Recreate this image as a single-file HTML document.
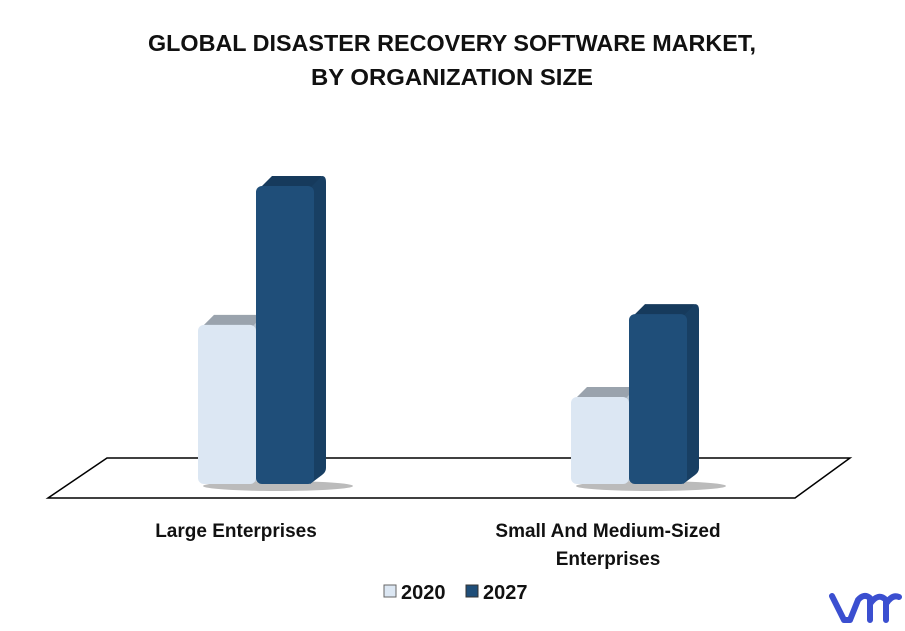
<!DOCTYPE html>
<html><head><meta charset="utf-8"><style>
body{margin:0;background:#fff;font-family:"Liberation Sans",sans-serif}
svg text{font-family:"Liberation Sans",sans-serif;font-weight:bold;fill:#111}
</style></head><body>
<svg id="c" width="905" height="626">
<text x="452" y="51" text-anchor="middle" font-size="23" textLength="608" lengthAdjust="spacingAndGlyphs">GLOBAL DISASTER RECOVERY SOFTWARE MARKET,</text>
<text x="452" y="85" text-anchor="middle" font-size="23" textLength="282" lengthAdjust="spacingAndGlyphs">BY ORGANIZATION SIZE</text>
<polygon points="48,498 107,458 850,458 795,498" fill="#fff" stroke="#000" stroke-width="1.5"/>
<g id="bars"></g>
<text x="236" y="537" text-anchor="middle" font-size="19">Large Enterprises</text>
<text x="608" y="537" text-anchor="middle" font-size="19">Small And Medium-Sized</text>
<text x="608" y="565" text-anchor="middle" font-size="19">Enterprises</text>
<g>
<rect x="384" y="585" width="12" height="12" fill="#dce7f3" stroke="#666"/>
<text x="401" y="599" font-size="20">2020</text>
<rect x="466" y="585" width="12" height="12" fill="#1f4e79" stroke="#333"/>
<text x="483" y="599" font-size="20">2027</text>
</g>
<g>
<path d="M832 596 L844 620 L850 620 L858 600 Q864 593 870 598 L870 620 M870 604 Q878 592 886 600 L886 620 M886 604 Q892 594 899 597" fill="none" stroke="#3b4fd0" stroke-width="6" stroke-linecap="round" stroke-linejoin="round"/>
</g>
</svg>
<script>
const categories=["Large Enterprises","Small And Medium-Sized Enterprises"];
const series2020=[2.67,1.46];
const series2027=[5.0,2.85];
const baseY=484, pxPerUnit=59.6;
const groupX=[198,571];
function yOf(v){return baseY-v*pxPerUnit;}
const g=document.getElementById('bars');
const NS='http://www.w3.org/2000/svg';
function bar(x,v,front,top,side,name){
  const w=58,d=12,y=yOf(v);
  const s=document.createElementNS(NS,'path');
  s.setAttribute('d',`M${x+w-4} ${y} L${x+w+d-4} ${y-10} Q${x+w+d} ${y-10} ${x+w+d} ${y-4} L${x+w+d} ${baseY-16} Q${x+w+d} ${baseY-12} ${x+w+d-4} ${baseY-9} L${x+w-4} ${baseY} Z`);
  s.setAttribute('fill',side);
  
  
  g.appendChild(s);
  const t=document.createElementNS(NS,'path');
  t.setAttribute('d',`M${x+2} ${y+4} L${x+d+4} ${y-10} L${x+w+d-4} ${y-10} L${x+w-4} ${y+2} Z`);
  t.setAttribute('fill',top);
  
  
  g.appendChild(t);
  const r=document.createElementNS(NS,'rect');
  r.setAttribute('x',x);r.setAttribute('y',y);r.setAttribute('width',w);r.setAttribute('height',baseY-y);
  r.setAttribute('rx',6);r.setAttribute('fill',front);
  
  
  g.appendChild(r);
}
categories.forEach((c,i)=>{
  const sh=document.createElementNS(NS,'ellipse');
  sh.setAttribute('cx',groupX[i]+80);sh.setAttribute('cy',baseY+2);sh.setAttribute('rx',75);sh.setAttribute('ry',5);
  sh.setAttribute('fill','#bbb');
  
  
  g.appendChild(sh);
  bar(groupX[i],series2020[i],'#dce7f3','#9aa3ad','#b9c4cf','bar-2020-'+i);
  bar(groupX[i]+58,series2027[i],'#1f4e79','#163a5c','#183f63','bar-2027-'+i);
});
</script>
</body></html>
